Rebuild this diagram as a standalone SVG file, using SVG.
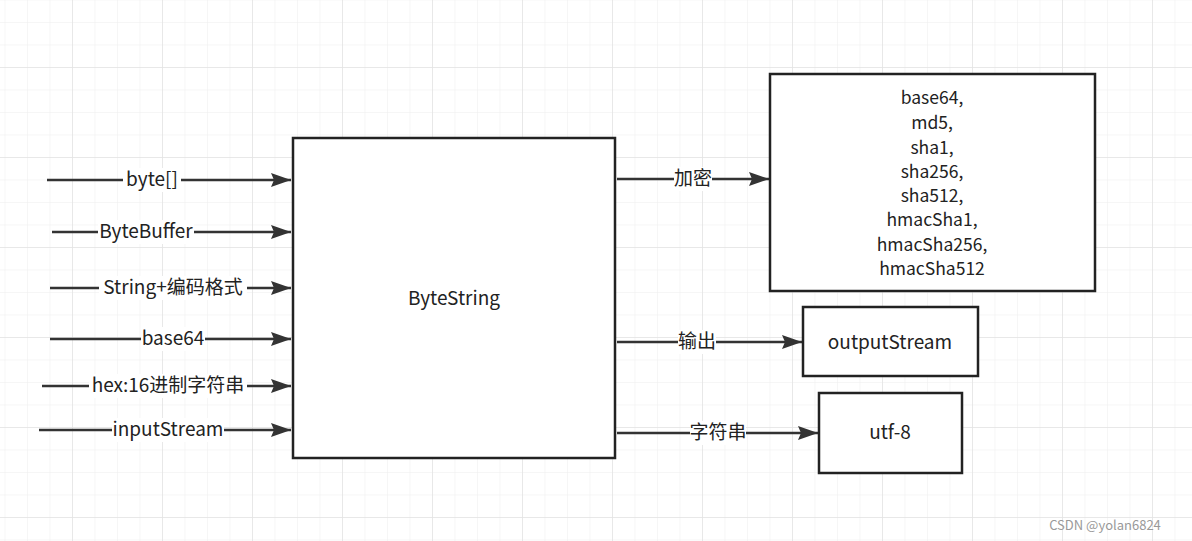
<svg xmlns="http://www.w3.org/2000/svg" width="1192" height="541" viewBox="0 0 1192 541">
<defs>
<pattern id="minor" width="22.5" height="22.5" patternUnits="userSpaceOnUse" x="4.5" y="-0.5"><path d="M0 0H22.5M0 0V22.5" fill="none" stroke="#eeeeee" stroke-width="1"/></pattern>
<pattern id="major" width="90" height="90" patternUnits="userSpaceOnUse" x="72" y="67"><path d="M0 0H90M0 0V90" fill="none" stroke="#e4e4e4" stroke-width="1.5"/></pattern>
<marker id="ar" markerWidth="20" markerHeight="14" refX="20" refY="7" orient="auto" markerUnits="userSpaceOnUse" viewBox="0 0 20 14"><path d="M0 0L20 7L0 14L3 7Z" fill="#333"/></marker>
</defs>
<style>
.box{fill:#fff;stroke:#222;stroke-width:2.5}
.ln{stroke:#333;stroke-width:2.5;fill:none;marker-end:url(#ar)}
text{font-family:"Noto Sans CJK SC","Noto Sans",sans-serif;font-size:19px;fill:#222;text-anchor:middle}
.sm{font-size:17.5px}
.lb{fill:#fff}
</style>
<rect width="1192" height="541" fill="#fff"/>
<rect width="1192" height="541" fill="url(#minor)"/>
<rect width="1192" height="541" fill="url(#major)"/>
<g id="connectors">
<path class="ln" d="M47 180H291"/>
<path class="ln" d="M52 232H291"/>
<path class="ln" d="M50 288H291"/>
<path class="ln" d="M50 339H291"/>
<path class="ln" d="M42 386H291"/>
<path class="ln" d="M39 430H291"/>
<path class="ln" d="M617 179H769"/>
<path class="ln" d="M617 342H802"/>
<path class="ln" d="M617 433H818"/>
<rect class="lb" x="123" y="168" width="58" height="24"/><text x="152" y="186">byte[]</text>
<rect class="lb" x="98" y="220" width="96" height="24"/><text x="146" y="238">ByteBuffer</text>
<rect class="lb" x="99" y="276" width="148" height="24"/><text x="173" y="294">String+编码格式</text>
<rect class="lb" x="141" y="327" width="64" height="24"/><text x="173" y="345">base64</text>
<rect class="lb" x="89" y="374" width="158" height="24"/><text x="168" y="392">hex:16进制字符串</text>
<rect class="lb" x="112" y="418" width="112" height="24"/><text x="168" y="436">inputStream</text>
<rect class="lb" x="674" y="167" width="38" height="24"/><text x="693" y="185">加密</text>
<rect class="lb" x="678" y="330" width="38" height="24"/><text x="697" y="348">输出</text>
<rect class="lb" x="690" y="421" width="56" height="24"/><text x="718" y="439">字符串</text>
</g>
<g id="bytestring"><rect class="box" x="293" y="138" width="322" height="320"/><text x="454" y="305">ByteString</text></g>
<g id="crypto"><rect class="box" x="770" y="74" width="325" height="217"/>
<text class="sm" x="932" y="104">base64,</text><text class="sm" x="932" y="129">md5,</text><text class="sm" x="932" y="154">sha1,</text><text class="sm" x="932" y="178">sha256,</text><text class="sm" x="932" y="202">sha512,</text><text class="sm" x="932" y="226">hmacSha1,</text><text class="sm" x="932" y="251">hmacSha256,</text><text class="sm" x="932" y="275">hmacSha512</text></g>
<g id="output"><rect class="box" x="803" y="307" width="175" height="69"/><text x="890" y="349">outputStream</text></g>
<g id="utf8"><rect class="box" x="819" y="393" width="143" height="80"/><text x="890" y="439">utf-8</text></g>
<text x="1105" y="530" style="font-size:13px;fill:#999">CSDN @yolan6824</text>
</svg>
